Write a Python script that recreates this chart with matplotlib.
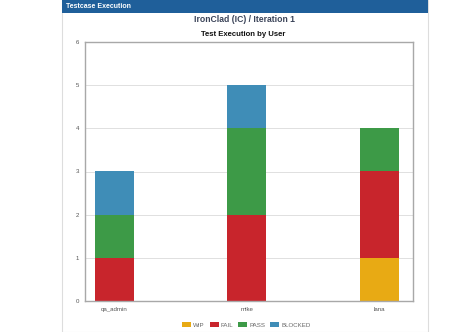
import numpy as np
import matplotlib.pyplot as plt
from matplotlib.patches import Rectangle

plt.rcParams['font.family'] = 'Liberation Sans'

users = ['qa_admin', 'mike', 'lana']
statuses = ['WIP', 'FAIL', 'PASS', 'BLOCKED']
wip = [0, 0, 1]
fail = [1, 2, 2]
passed = [1, 2, 1]
blocked = [1, 1, 0]
colors = ['#e8aa14', '#c8252c', '#3d9a47', '#3f8db7']

W, H = 474, 332
fig = plt.figure(figsize=(W / 100, H / 100), dpi=100)
fig.patch.set_facecolor('white')

# panel frame + header bar
fig.patches.append(Rectangle((62 / W, 0), (428 - 62) / W, 1, transform=fig.transFigure,
                             facecolor='white', edgecolor='#dddddd', lw=0.8, zorder=-10))
fig.patches.append(Rectangle((62 / W, 1 - 13 / H), (428 - 62) / W, 13 / H, transform=fig.transFigure,
                             facecolor='#1f5f9a', edgecolor='none', zorder=-9))
fig.text(66 / W, 1 - 7 / H, 'Testcase Execution', color='white', fontsize=5.0,
         fontweight='bold', va='center', ha='left')
fig.text(245 / W, 1 - 19.5 / H, 'IronClad (IC) / Iteration 1', color='#3a4358', fontsize=6.2,
         fontweight='bold', va='center', ha='center')
fig.text(243 / W, 1 - 35 / H, 'Test Execution by User', color='#111111', fontsize=5.6,
         fontweight='bold', va='center', ha='center')

ax = fig.add_axes([85 / W, 1 - 301 / H, (413 - 85) / W, (301 - 42) / H])
x = np.arange(len(users))
bottom = np.zeros(len(users))
for name, vals, c in zip(statuses, [wip, fail, passed, blocked], colors):
    ax.bar(x, vals, width=0.295, bottom=bottom, color=c, label=name, zorder=2)
    bottom += np.array(vals)

ax.set_xlim(-0.223, 2.257)
ax.set_ylim(0, 6)
ax.set_yticks(range(7))
ax.set_xticks(x)
ax.set_xticklabels(users)
ax.tick_params(labelsize=4.4, colors='#555555', length=0, pad=4)
ax.yaxis.grid(True, color='#e0e0e0', lw=0.7, zorder=0)
ax.set_axisbelow(True)
for s in ax.spines.values():
    s.set_color('#a8a8a8')
    s.set_linewidth(1.0)

ax.legend(loc='center', bbox_to_anchor=(0.492, -0.093), ncol=4, frameon=False,
          fontsize=4.4, handlelength=1.5, handleheight=0.9, columnspacing=0.8,
          handletextpad=0.3, labelcolor='#666666')

plt.savefig('out.png', dpi=100)
